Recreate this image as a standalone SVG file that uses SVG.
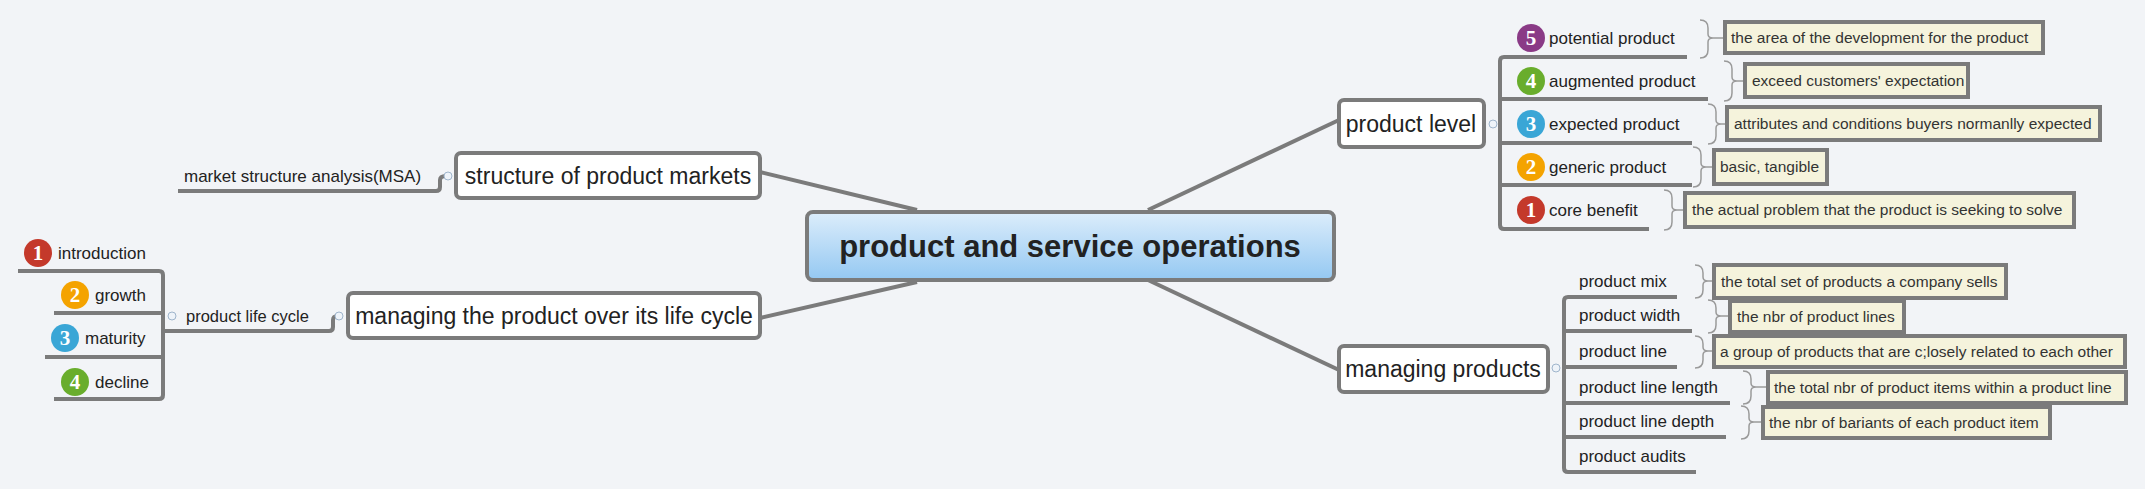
<svg xmlns="http://www.w3.org/2000/svg" width="2145" height="489" viewBox="0 0 2145 489">
<defs>
<linearGradient id="cg" x1="0" y1="0" x2="0" y2="1"><stop offset="0" stop-color="#dcedfb"/><stop offset="1" stop-color="#94c8f2"/></linearGradient>
</defs>
<style>
.box{fill:#fff;stroke:#7b7b7b;stroke-width:4}
.ln{fill:none;stroke:#7b7b7b;stroke-width:4}
.br{fill:none;stroke:#9a9a9a;stroke-width:1.5}
.note{fill:#f5f3dc;stroke:#7b7b7b;stroke-width:4}
.t{font-family:"Liberation Sans",Arial,sans-serif;fill:#222}
.big{font-size:23px}
.it{font-size:17px}
.nt{font-size:15.5px;fill:#333}
.num{font-family:"Liberation Serif",serif;font-size:21px;font-weight:bold;fill:#fff;text-anchor:middle}
.cc{fill:#eef3f9;stroke:#9fb5cc;stroke-width:1}
</style>
<rect width="2145" height="489" fill="#f2f4f7"/>
<g id="connectors">
<path class="ln" d="M760 172 L917 210"/>
<path class="ln" d="M760 318 L917 282"/>
<path class="ln" d="M1148 210 L1339 120"/>
<path class="ln" d="M1148 280 L1339 370"/>
<path class="ln" d="M178 191 L436 191 Q440 191 440 187 L440 180 Q440 176 446 176"/>
<path class="ln" d="M163 331 L329 331 Q333 331 333 327 L333 320 Q333 316 338 316"/>
<path class="ln" d="M18 271 L159 271 Q163 271 163 275 L163 395 Q163 399 159 399 L54 399 M54 313 L163 313 M45 357 L163 357"/>
<path class="ln" d="M1687 57 L1504 57 Q1500 57 1500 61 L1500 225 Q1500 229 1504 229 L1649 229 M1500 99 L1708 99 M1500 143 L1692 143 M1500 185 L1692 185"/>
<path class="ln" d="M1677 297 L1568 297 Q1564 297 1564 301 L1564 468 Q1564 472 1568 472 L1696 472 M1564 331 L1692 331 M1564 367 L1677 367 M1564 403 L1730 403 M1564 437 L1726 437"/>
<path class="br" d="M1700 20 Q1708 20 1708 28 L1708 34 Q1708 38 1713 38 Q1708 38 1708 42 L1708 50 Q1708 58 1700 58 M1713 38 L1725 38"/>
<path class="br" d="M1724 61 Q1732 61 1732 69 L1732 77 Q1732 81 1737 81 Q1732 81 1732 85 L1732 93 Q1732 101 1724 101 M1737 81 L1745 81"/>
<path class="br" d="M1708 104 Q1716 104 1716 112 L1716 120 Q1716 124 1721 124 Q1716 124 1716 128 L1716 136 Q1716 144 1708 144 M1721 124 L1727 124"/>
<path class="br" d="M1693 147 Q1701 147 1701 155 L1701 163 Q1701 167 1706 167 Q1701 167 1701 171 L1701 179 Q1701 187 1693 187 M1706 167 L1714 167"/>
<path class="br" d="M1664 190 Q1672 190 1672 198 L1672 206 Q1672 210 1677 210 Q1672 210 1672 214 L1672 222 Q1672 230 1664 230 M1677 210 L1685 210"/>
<path class="br" d="M1695 265 Q1703 265 1703 273 L1703 277 Q1703 281 1708 281 Q1703 281 1703 285 L1703 290 Q1703 298 1695 298 M1708 281 L1714 281"/>
<path class="br" d="M1708 300 Q1716 300 1716 308 L1716 312 Q1716 316 1721 316 Q1716 316 1716 320 L1716 325 Q1716 333 1708 333 M1721 316 L1730 316"/>
<path class="br" d="M1695 336 Q1703 336 1703 344 L1703 347 Q1703 351 1708 351 Q1703 351 1703 355 L1703 360 Q1703 368 1695 368 M1708 351 L1714 351"/>
<path class="br" d="M1743 371 Q1751 371 1751 379 L1751 383 Q1751 387 1756 387 Q1751 387 1751 391 L1751 396 Q1751 404 1743 404 M1756 387 L1768 387"/>
<path class="br" d="M1741 406 Q1749 406 1749 414 L1749 418 Q1749 422 1754 422 Q1749 422 1749 426 L1749 431 Q1749 439 1741 439 M1754 422 L1763 422"/>
<circle class="cc" cx="448" cy="176" r="4"/>
<circle class="cc" cx="339" cy="316" r="4"/>
<circle class="cc" cx="172" cy="316" r="4"/>
<circle class="cc" cx="1493" cy="124" r="4"/>
<circle class="cc" cx="1556" cy="368" r="4"/>
</g>
<g id="center"><rect x="807" y="212" width="527" height="68" rx="6" fill="url(#cg)" stroke="#7b7b7b" stroke-width="4"/><text class="t" x="1070" y="257" text-anchor="middle" font-size="31" font-weight="bold" fill="#404850">product and service operations</text></g>
<g id="structure"><rect class="box" x="456" y="153" width="304" height="45" rx="5"/><text class="t big" x="608" y="184" text-anchor="middle">structure of product markets</text></g>
<g id="msa"><text class="t" x="184" y="182" font-size="17">market structure analysis(MSA)</text></g>
<g id="lifecycle"><rect class="box" x="348" y="293" width="412" height="45" rx="5"/><text class="t big" x="554" y="324" text-anchor="middle">managing the product over its life cycle</text></g>
<g id="plc"><text class="t" x="186" y="322" font-size="16.5">product life cycle</text></g>
<g id="intro"><circle cx="38" cy="253" r="14" fill="#c4392b"/><text class="num" x="38" y="260">1</text><text class="t it" x="58" y="259">introduction</text></g>
<g id="growth"><circle cx="75" cy="295" r="14" fill="#f4a300"/><text class="num" x="75" y="302">2</text><text class="t it" x="95" y="301">growth</text></g>
<g id="maturity"><circle cx="65" cy="338" r="14" fill="#3aa6d6"/><text class="num" x="65" y="345">3</text><text class="t it" x="85" y="344">maturity</text></g>
<g id="decline"><circle cx="75" cy="382" r="14" fill="#69ad2c"/><text class="num" x="75" y="389">4</text><text class="t it" x="95" y="388">decline</text></g>
<g id="productlevel"><rect class="box" x="1339" y="100" width="145" height="47" rx="5"/><text class="t big" x="1411" y="132" text-anchor="middle">product level</text></g>
<g id="potential"><circle cx="1531" cy="38" r="14" fill="#8a3a86"/><text class="num" x="1531" y="45">5</text><text class="t it" x="1549" y="44">potential product</text><rect class="note" x="1725" y="22" width="318" height="31"/><text class="t nt" x="1731" y="43">the area of the development for the product</text></g>
<g id="augmented"><circle cx="1531" cy="81" r="14" fill="#69ad2c"/><text class="num" x="1531" y="88">4</text><text class="t it" x="1549" y="87">augmented product</text><rect class="note" x="1745" y="64" width="223" height="33"/><text class="t nt" x="1752" y="86">exceed customers' expectation</text></g>
<g id="expected"><circle cx="1531" cy="124" r="14" fill="#3aa6d6"/><text class="num" x="1531" y="131">3</text><text class="t it" x="1549" y="130">expected product</text><rect class="note" x="1727" y="107" width="373" height="33"/><text class="t nt" x="1734" y="129">attributes and conditions buyers normanlly expected</text></g>
<g id="generic"><circle cx="1531" cy="167" r="14" fill="#f4a300"/><text class="num" x="1531" y="174">2</text><text class="t it" x="1549" y="173">generic product</text><rect class="note" x="1714" y="150" width="113" height="34"/><text class="t nt" x="1720" y="172">basic, tangible</text></g>
<g id="core"><circle cx="1531" cy="210" r="14" fill="#c4392b"/><text class="num" x="1531" y="217">1</text><text class="t it" x="1549" y="216">core benefit</text><rect class="note" x="1685" y="193" width="389" height="34"/><text class="t nt" x="1692" y="215">the actual problem that the product is seeking to solve</text></g>
<g id="managing"><rect class="box" x="1339" y="346" width="209" height="46" rx="5"/><text class="t big" x="1443" y="377" text-anchor="middle">managing products</text></g>
<g id="mix"><text class="t it" x="1579" y="287">product mix</text><rect class="note" x="1714" y="265" width="292" height="33"/><text class="t nt" x="1721" y="287">the total set of products a company sells</text></g>
<g id="width"><text class="t it" x="1579" y="321">product width</text><rect class="note" x="1730" y="301" width="174" height="31"/><text class="t nt" x="1737" y="322">the nbr of product lines</text></g>
<g id="line"><text class="t it" x="1579" y="357">product line</text><rect class="note" x="1714" y="336" width="411" height="31"/><text class="t nt" x="1720" y="357">a group of products that are c;losely related to each other</text></g>
<g id="length"><text class="t it" x="1579" y="393">product line length</text><rect class="note" x="1768" y="372" width="358" height="31"/><text class="t nt" x="1774" y="393">the total nbr of product items within a product line</text></g>
<g id="depth"><text class="t it" x="1579" y="427">product line depth</text><rect class="note" x="1763" y="407" width="287" height="31"/><text class="t nt" x="1769" y="428">the nbr of bariants of each product item</text></g>
<g id="audits"><text class="t it" x="1579" y="462">product audits</text></g>
</svg>
